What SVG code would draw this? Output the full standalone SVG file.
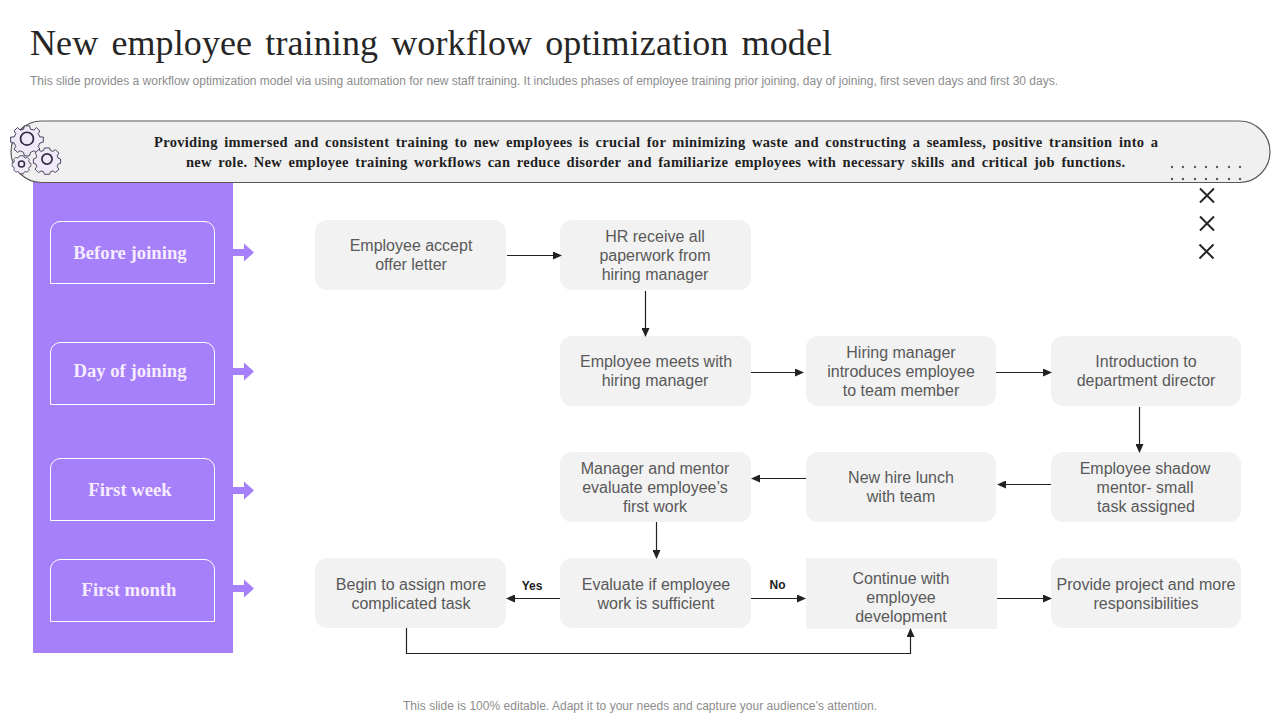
<svg xmlns="http://www.w3.org/2000/svg" xmlns:xlink="http://www.w3.org/1999/xlink" width="1280" height="720" viewBox="0 0 1280 720">
<style>
.s{font-family:"Liberation Sans",Arial,sans-serif}
.t{font-family:"Liberation Serif","Times New Roman",serif}
.box{fill:#f2f2f2}
.nt{font-family:"Liberation Sans",Arial,sans-serif;font-size:16px;fill:#595959;text-anchor:middle}
.ph{fill:none;stroke:#fff;stroke-width:1}
.pt{font-family:"Liberation Serif",serif;font-size:18.700px;font-weight:bold;fill:#f6ecff;text-anchor:middle}
.c{fill:none;stroke:#222;stroke-width:1.2}
.x{stroke:#262626;stroke-width:2;fill:none}
.d{fill:#595959}
.g{fill:#efe9f8;stroke:#2f2a44;stroke-width:1}
.gi{fill:none;stroke:#2f2a44;stroke-width:2}
.ba{font-family:"Liberation Serif",serif;font-size:14.500px;font-weight:bold;fill:#1f1f1f;text-anchor:middle;word-spacing:2.500px}
.l{font-family:"Liberation Sans",Arial,sans-serif;font-size:12px;font-weight:bold;fill:#222;text-anchor:middle}
</style>
<defs>
<marker id="a" markerWidth="9" markerHeight="8" refX="8" refY="4" orient="auto" markerUnits="userSpaceOnUse"><path d="M0 0L9 4L0 8z" fill="#222"/></marker>
<path id="pa" d="M0 -3.500H11V-9L21 0L11 9V3.500H0z" fill="#a67ffb"/>
</defs>
<rect width="1280" height="720" fill="#fff"/>
<text class="t" x="30" y="55" font-size="36" fill="#262626" word-spacing="4" textLength="802" lengthAdjust="spacing">New employee training workflow optimization model</text>
<text class="s" x="30" y="85" font-size="12" fill="#8c8c8c" textLength="1028" lengthAdjust="spacing">This slide provides a workflow optimization model via using automation for new staff training. It includes phases of employee training prior joining, day of joining, first seven days and first 30 days.</text>
<rect id="sidebar" x="33" y="180" width="200" height="473" fill="#a67ffb"/>
<g id="banner">
<rect x="11" y="121" width="1259" height="61.500" rx="30.700" fill="#f0f0f0" stroke="#595959" stroke-width="1.200"/>
<text class="ba" x="656" y="147" textLength="1004" lengthAdjust="spacing">Providing immersed and consistent training to new employees is crucial for minimizing waste and constructing a seamless, positive transition into a</text>
<text class="ba" x="655.500" y="167" textLength="939" lengthAdjust="spacing">new role. New employee training workflows can reduce disorder and familiarize employees with necessary skills and critical job functions.</text>
</g>
<g id="gears">
<g transform="translate(27 143) scale(.86) translate(-27 -146)"><path class="g" d="M24 126h6l1 4 4 1 3-3 4 4-2 3 2 4 4 0v6l-4 1-2 4 2 3-4 4-3-2-4 2-1 4h-6l-1-4-4-2-3 2-4-4 2-3-2-4-4-1v-6l4 0 2-4-2-3 4-4 3 3 4-1z"/><circle cx="27" cy="141" r="7.500" class="gi"/></g>
<g transform="translate(47 159) scale(.85) translate(-47 -159)"><path class="g" d="M44 146h6l1 3 3 1 3-2 4 4-2 3 1 3 3 1v5l-3 1-1 3 2 3-4 4-3-2-3 1-1 3h-6l-1-3-3-1-3 2-4-4 2-3-1-3-3-1v-5l3-1 1-3-2-3 4-4 3 2 3-1z"/><circle cx="47" cy="159" r="6" class="gi"/></g>
<g transform="translate(21.500 164) scale(.75) translate(-21.500 -164)"><path class="g" d="M19 153h5l1 2 2 1 2-1 3 3-1 2 1 2 2 1v4l-2 1-1 2 1 2-3 3-2-1-2 1-1 2h-5l-1-2-2-1-2 1-3-3 1-2-1-2-2-1v-4l2-1 1-2-1-2 3-3 2 1 2-1z"/><circle cx="21.500" cy="164" r="4" class="gi"/></g>
</g>
<g id="dots" class="d">
<circle cx="1172" cy="167" r="1.200"/><circle cx="1183" cy="167" r="1.200"/><circle cx="1195" cy="167" r="1.200"/><circle cx="1206" cy="167" r="1.200"/><circle cx="1217" cy="167" r="1.200"/><circle cx="1229" cy="167" r="1.200"/><circle cx="1240" cy="167" r="1.200"/>
<circle cx="1172" cy="179" r="1.200"/><circle cx="1183" cy="179" r="1.200"/><circle cx="1195" cy="179" r="1.200"/><circle cx="1206" cy="179" r="1.200"/><circle cx="1217" cy="179" r="1.200"/><circle cx="1229" cy="179" r="1.200"/><circle cx="1240" cy="179" r="1.200"/>
</g>
<g id="crosses" class="x">
<path d="M1200 188.500l14 14M1214 188.500l-14 14"/>
<path d="M1200 216.500l14 14M1214 216.500l-14 14"/>
<path d="M1199.500 244.500l14 14M1213.500 244.500l-14 14"/>
</g>
<g id="phase-before"><path class="ph" d="M60 221.500H205a10 10 0 0 1 9.500 10V283.500H50.500V231a10 10 0 0 1 9.500-9.500z"/><text class="pt" x="130" y="259">Before joining</text></g>
<g id="phase-day"><path class="ph" d="M60 342.500H205a10 10 0 0 1 9.500 10V404.500H50.500V352a10 10 0 0 1 9.500-9.500z"/><text class="pt" x="130" y="377">Day of joining</text></g>
<g id="phase-week"><path class="ph" d="M60 458.500H205a10 10 0 0 1 9.500 10V520.500H50.500V468a10 10 0 0 1 9.500-9.500z"/><text class="pt" x="130" y="496">First week</text></g>
<g id="phase-month"><path class="ph" d="M60 559.500H205a10 10 0 0 1 9.500 10V621.500H50.500V569a10 10 0 0 1 9.500-9.500z"/><text class="pt" x="129" y="596">First month</text></g>
<g id="phase-arrows">
<use xlink:href="#pa" href="#pa" x="233" y="252.500"/>
<use xlink:href="#pa" href="#pa" x="233" y="371.500"/>
<use xlink:href="#pa" href="#pa" x="233" y="490.500"/>
<use xlink:href="#pa" href="#pa" x="233" y="588.500"/>
</g>
<g id="n1"><rect class="box" x="315" y="220" width="191" height="70" rx="12"/><text class="nt" x="411" y="251">Employee accept</text><text class="nt" x="411" y="270">offer letter</text></g>
<g id="n2"><rect class="box" x="560" y="220" width="191" height="70" rx="12"/><text class="nt" x="655" y="242">HR receive all</text><text class="nt" x="655" y="261">paperwork from</text><text class="nt" x="655" y="280">hiring manager</text></g>
<g id="n3"><rect class="box" x="560" y="336" width="191" height="70" rx="12"/><text class="nt" x="656" y="367">Employee meets with</text><text class="nt" x="655" y="386">hiring manager</text></g>
<g id="n4"><rect class="box" x="806" y="336" width="190" height="70" rx="12"/><text class="nt" x="901" y="358">Hiring manager</text><text class="nt" x="901" y="377">introduces employee</text><text class="nt" x="901" y="396">to team member</text></g>
<g id="n5"><rect class="box" x="1051" y="336" width="190" height="70" rx="12"/><text class="nt" x="1146" y="367">Introduction to</text><text class="nt" x="1146" y="386">department director</text></g>
<g id="n6"><rect class="box" x="1051" y="452" width="190" height="70" rx="12"/><text class="nt" x="1145" y="474">Employee shadow</text><text class="nt" x="1145" y="493">mentor- small</text><text class="nt" x="1146" y="512">task assigned</text></g>
<g id="n7"><rect class="box" x="806" y="452" width="190" height="70" rx="12"/><text class="nt" x="901" y="483">New hire lunch</text><text class="nt" x="901" y="502">with team</text></g>
<g id="n8"><rect class="box" x="560" y="452" width="191" height="70" rx="12"/><text class="nt" x="655" y="474">Manager and mentor</text><text class="nt" x="655" y="493">evaluate employee’s</text><text class="nt" x="655" y="512">first work</text></g>
<g id="n9"><rect class="box" x="315" y="558" width="191" height="70" rx="12"/><text class="nt" x="411" y="590">Begin to assign more</text><text class="nt" x="411" y="609">complicated task</text></g>
<g id="n10"><rect class="box" x="560" y="558" width="191" height="70" rx="12"/><text class="nt" x="656" y="590">Evaluate if employee</text><text class="nt" x="656" y="609">work is sufficient</text></g>
<g id="n11"><rect class="box" x="806" y="558" width="191" height="71"/><text class="nt" x="901" y="584">Continue with</text><text class="nt" x="901" y="603">employee</text><text class="nt" x="901" y="622">development</text></g>
<g id="n12"><rect class="box" x="1051" y="558" width="190" height="70" rx="12"/><text class="nt" x="1146" y="590">Provide project and more</text><text class="nt" x="1146" y="609">responsibilities</text></g>
<g id="connectors">
<path class="c" marker-end="url(#a)" d="M507 255.500H561"/>
<path class="c" marker-end="url(#a)" d="M645.500 291V336"/>
<path class="c" marker-end="url(#a)" d="M751 372.500H803"/>
<path class="c" marker-end="url(#a)" d="M996 372.500H1051"/>
<path class="c" marker-end="url(#a)" d="M1139.500 407V452"/>
<path class="c" marker-end="url(#a)" d="M1051 484.500H998"/>
<path class="c" marker-end="url(#a)" d="M806 478.500H752"/>
<path class="c" marker-end="url(#a)" d="M656.500 522V558"/>
<path class="c" marker-end="url(#a)" d="M560 598.500H507"/>
<path class="c" marker-end="url(#a)" d="M751 598.500H805"/>
<path class="c" marker-end="url(#a)" d="M997 598.500H1051"/>
<path class="c" marker-end="url(#a)" d="M406.500 628V653.500H910.500V629"/>
</g>
<text class="l" x="532" y="590">Yes</text>
<text class="l" x="777.500" y="589">No</text>
<text class="s" x="640" y="710" font-size="12" fill="#8c8c8c" text-anchor="middle" textLength="474" lengthAdjust="spacing">This slide is 100% editable. Adapt it to your needs and capture your audience’s attention.</text>
</svg>
